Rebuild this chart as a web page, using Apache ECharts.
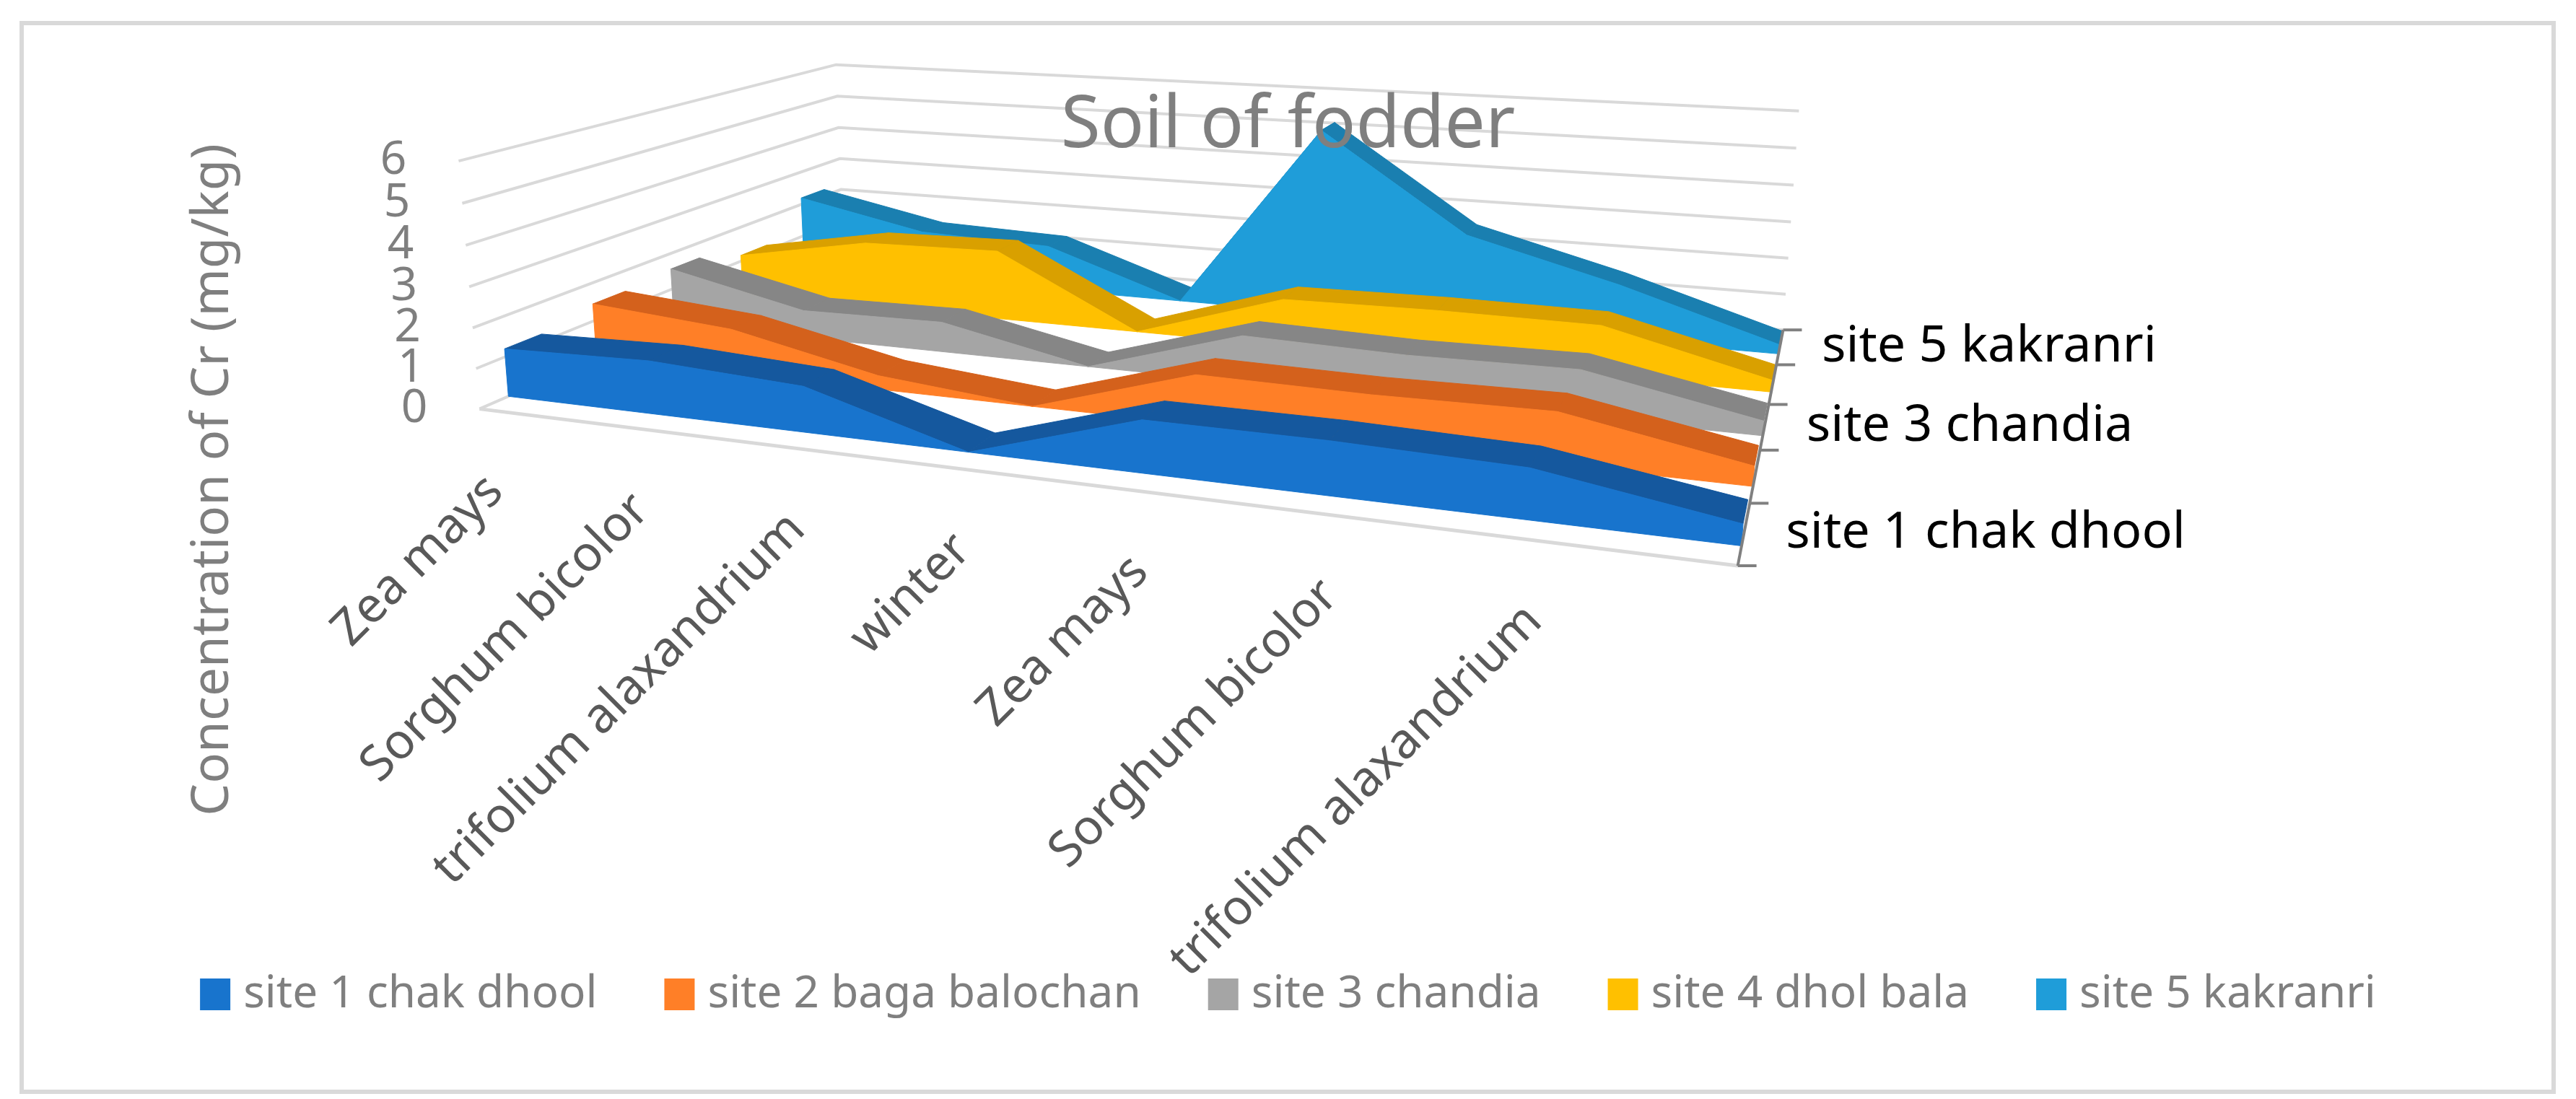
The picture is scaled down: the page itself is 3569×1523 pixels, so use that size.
<!DOCTYPE html>
<html>
<head>
<meta charset="utf-8">
<script src="https://cdn.jsdelivr.net/npm/echarts@6/dist/echarts.min.js"></script>
<style>
html,body{margin:0;padding:0;background:#ffffff;}
#c{width:3569px;height:1523px;}
</style>
</head>
<body>
<div id="c"></div>
<script>
// ---------------- data ----------------
const categories = ["Zea mays","Sorghum bicolor","trifolium alaxandrium","winter","Zea mays","Sorghum bicolor","trifolium alaxandrium",""];
const seriesNames = ["site 1 chak dhool","site 2 baga balochan","site 3 chandia","site 4 dhol bala","site 5 kakranri"];
const site1 = [1.2, 1.3, 1.1, 0, 1.2, 1.2, 1.1, 0.45];
const site2 = [1.45, 1.15, 0.35, 0, 1.2, 1.15, 1.2, 0.45];
const site3 = [1.57, 0.75, 0.8, 0, 1.2, 1.1, 1.15, 0.35];
const site4 = [1.17, 1.85, 1.93, 0, 1.26, 1.32, 1.3, 0.3];
const site5 = [2.2, 1.43, 1.3, 0, 5.2, 2.55, 1.5, 0.25];
const yTicks = [0, 1, 2, 3, 4, 5, 6];
const depthLabels = ["site 1 chak dhool", "", "site 3 chandia", "", "site 5 kakranri"];

// ---------------- styles ----------------
const FRONT = ["#1874CD", "#FF7F27", "#A5A5A5", "#FFC000", "#1F9DD9"];
const TOP   = ["#15589E", "#D4611C", "#868686", "#D9A000", "#1A7FB0"];
const FONT = "Noto Sans";
const allSeries = [site1, site2, site3, site4, site5];
const NCAT = categories.length;
const YMAX = 6;
const NSER = allSeries.length;

// ------------- 3D camera (box frame calibration, design px) -------------
// [u (category 0..1), w (depth 0..1), v (value 0..1), screenX, screenY]
const FRAME_ANCHORS = [
  [0, 0, 0, 666, 567],
  [0, 0, 1, 635, 224],
  [0, 1, 0, 1168, 349],
  [0, 1, 1, 1159, 87],
  [1, 1, 0, 2470, 457],
  [1, 1, 1, 2492, 156],
  [1, 0, 0, 2407, 784],
  [3/7, 0, 0, 1310, 647],
  [1, 0.2, 0, 2425, 697],
  [1, 0.4, 0, 2440, 623],
  [1, 0.6, 0, 2451, 561],
  [1, 0.8, 0, 2461, 504]
];

function calibrate(anchors) {
  const n = 11;
  const M = Array.from({length: n}, () => new Array(n).fill(0));
  const b = new Array(n).fill(0);
  function add(row, r) {
    for (let i = 0; i < n; i++) {
      b[i] += row[i] * r;
      for (let j = 0; j < n; j++) M[i][j] += row[i] * row[j];
    }
  }
  anchors.forEach(a => {
    const [u, w, v, X, Y] = a;
    add([u, w, v, 1, 0, 0, 0, 0, -X * u, -X * w, -X * v], X);
    add([0, 0, 0, 0, u, w, v, 1, -Y * u, -Y * w, -Y * v], Y);
  });
  for (let c = 0; c < n; c++) {
    let p = c;
    for (let r = c + 1; r < n; r++) if (Math.abs(M[r][c]) > Math.abs(M[p][c])) p = r;
    [M[c], M[p]] = [M[p], M[c]]; [b[c], b[p]] = [b[p], b[c]];
    for (let r = 0; r < n; r++) {
      if (r === c) continue;
      const f = M[r][c] / M[c][c];
      for (let k = c; k < n; k++) M[r][k] -= f * M[c][k];
      b[r] -= f * b[c];
    }
  }
  return b.map((v, i) => v / M[i][i]);
}
const P = calibrate(FRAME_ANCHORS);
function proj(u, w, v) {
  const d = P[8] * u + P[9] * w + P[10] * v + 1;
  return [(P[0] * u + P[1] * w + P[2] * v + P[3]) / d,
          (P[4] * u + P[5] * w + P[6] * v + P[7]) / d];
}
// normalise a (category, value) pair through the hidden cartesian scales
function norm(api, i, val) {
  const p = api.coord([i, val]);
  const o = api.coord([0, 0]);
  const e = api.coord([NCAT - 1, YMAX]);
  return [(p[0] - o[0]) / (e[0] - o[0]), (o[1] - p[1]) / (o[1] - e[1])];
}

// ---------------- render items ----------------
function ribbonRender(s) {
  const vals = allSeries[s];
  return function (params, api) {
    const i = params.dataIndex;
    const wf = (s + 0.3) / NSER, wb = (s + 0.7) / NSER;
    const children = [];
    if (i < NCAT - 1) {
      const a = norm(api, i, api.value(1)), b = norm(api, i + 1, vals[i + 1]);
      children.push({
        type: 'polygon', z2: 1,
        shape: {points: [proj(a[0], wf, a[1]), proj(b[0], wf, b[1]), proj(b[0], wb, b[1]), proj(a[0], wb, a[1])]},
        style: {fill: TOP[s], stroke: TOP[s], lineWidth: 1}
      });
    }
    if (i === 0) {
      const pts = [];
      for (let j = 0; j < NCAT; j++) { const q = norm(api, j, vals[j]); pts.push(proj(q[0], wf, q[1])); }
      const e = norm(api, NCAT - 1, 0), st = norm(api, 0, 0);
      pts.push(proj(e[0], wf, 0)); pts.push(proj(st[0], wf, 0));
      children.push({type: 'polygon', z2: 5, shape: {points: pts}, style: {fill: FRONT[s], stroke: FRONT[s], lineWidth: 1}});
    }
    return {type: 'group', children};
  };
}

function wallRender(params, api) {
  const t = api.value(1);
  const vn = norm(api, 0, t)[1];
  const gl = {stroke: '#d9d9d9', lineWidth: 4};
  const a = proj(0, 0, vn), b = proj(0, 1, vn), c = proj(1, 1, vn);
  const children = [
    {type: 'polyline', shape: {points: [a, b, c]}, style: Object.assign({fill: null}, gl)},
    {type: 'text', x: a[0] - 72, y: a[1], style: {text: String(t), align: 'right', verticalAlign: 'middle', fontSize: 64, fontFamily: FONT, fill: '#7f7f7f'}}
  ];
  if (t === 0) {
    children.push({type: 'line', shape: {x1: a[0], y1: a[1], x2: proj(1, 0, 0)[0], y2: proj(1, 0, 0)[1]}, style: {stroke: '#d9d9d9', lineWidth: 5}});
  }
  return {type: 'group', children};
}

function catLabelRender(params, api) {
  const i = params.dataIndex;
  const q = norm(api, api.value(0), 0);
  const p = proj(q[0], 0, 0);
  return {type: 'text', x: p[0] + 22, y: p[1] + 104, rotation: Math.PI / 4,
    style: {text: categories[i], align: 'right', verticalAlign: 'middle', fontSize: 68, fontFamily: FONT, fill: '#595959'}};
}

function depthRender(params, api) {
  const k = params.dataIndex;
  const ue = norm(api, api.value(0), 0)[0];
  const children = [];
  if (k === 0) {
    const p0 = proj(ue, 0, 0), p1 = proj(ue, 1, 0);
    children.push({type: 'line', shape: {x1: p0[0], y1: p0[1], x2: p1[0], y2: p1[1]}, style: {stroke: '#808080', lineWidth: 4}});
    for (let m = 0; m <= NSER; m++) {
      const t = proj(ue, m / NSER, 0);
      children.push({type: 'line', shape: {x1: t[0], y1: t[1], x2: t[0] + 26, y2: t[1]}, style: {stroke: '#808080', lineWidth: 4}});
    }
  }
  if (depthLabels[k]) {
    const c = proj(ue, (k + 0.5) / NSER, 0);
    children.push({type: 'text', x: c[0] + 58, y: c[1], style: {text: depthLabels[k], align: 'left', verticalAlign: 'middle', fontSize: 70, fontFamily: FONT, fill: '#000000'}});
  }
  return {type: 'group', children};
}

// ---------------- option ----------------
const series = [
  {type: 'custom', name: '__walls', coordinateSystem: 'cartesian2d', z: 1, silent: true,
   data: yTicks.map(t => [0, t]), renderItem: wallRender, encode: {x: 0, y: 1}},
  {type: 'custom', name: '__cats', coordinateSystem: 'cartesian2d', z: 20, silent: true,
   data: categories.map((c, i) => [i, 0]), renderItem: catLabelRender, encode: {x: 0, y: 1}},
  {type: 'custom', name: '__depth', coordinateSystem: 'cartesian2d', z: 20, silent: true,
   data: depthLabels.map((d, k) => [NCAT - 1, 0]), renderItem: depthRender, encode: {x: 0, y: 1}}
];
for (let s = NSER - 1; s >= 0; s--) {
  series.push({
    type: 'custom', name: seriesNames[s], coordinateSystem: 'cartesian2d', z: 10 - s,
    color: FRONT[s], itemStyle: {color: FRONT[s]},
    data: allSeries[s].map((v, i) => [i, v]), renderItem: ribbonRender(s), encode: {x: 0, y: 1}
  });
}

const option = {
  animation: false,
  backgroundColor: '#ffffff',
  title: {text: 'Soil of fodder', left: 'center', top: 121,
    textStyle: {fontSize: 100, fontWeight: 'normal', color: '#7f7f7f', fontFamily: FONT}},
  grid: {left: 0, right: 0, top: 0, bottom: 0},
  xAxis: {type: 'category', data: categories, boundaryGap: false, show: false},
  yAxis: {type: 'value', min: 0, max: YMAX, interval: 1, show: false},
  legend: {data: seriesNames, left: 'center', top: 1342, icon: 'rect', itemWidth: 42, itemHeight: 44, itemGap: 93,
    textStyle: {fontSize: 62, color: '#7f7f7f', fontFamily: FONT, padding: [0, 0, 0, 13]}},
  graphic: [
    {type: 'rect', z: -10, shape: {x: 30, y: 32, width: 3508, height: 1481}, style: {fill: 'none', stroke: '#d9d9d9', lineWidth: 6}},
    {type: 'text', x: 296, y: 665, rotation: Math.PI / 2,
     style: {text: 'Concentration of Cr (mg/kg)', align: 'center', verticalAlign: 'middle', fontSize: 71, fontFamily: FONT, fill: '#7f7f7f'}}
  ],
  series
};
const chart = echarts.init(document.getElementById('c'));
chart.setOption(option);
</script>
</body>
</html>
